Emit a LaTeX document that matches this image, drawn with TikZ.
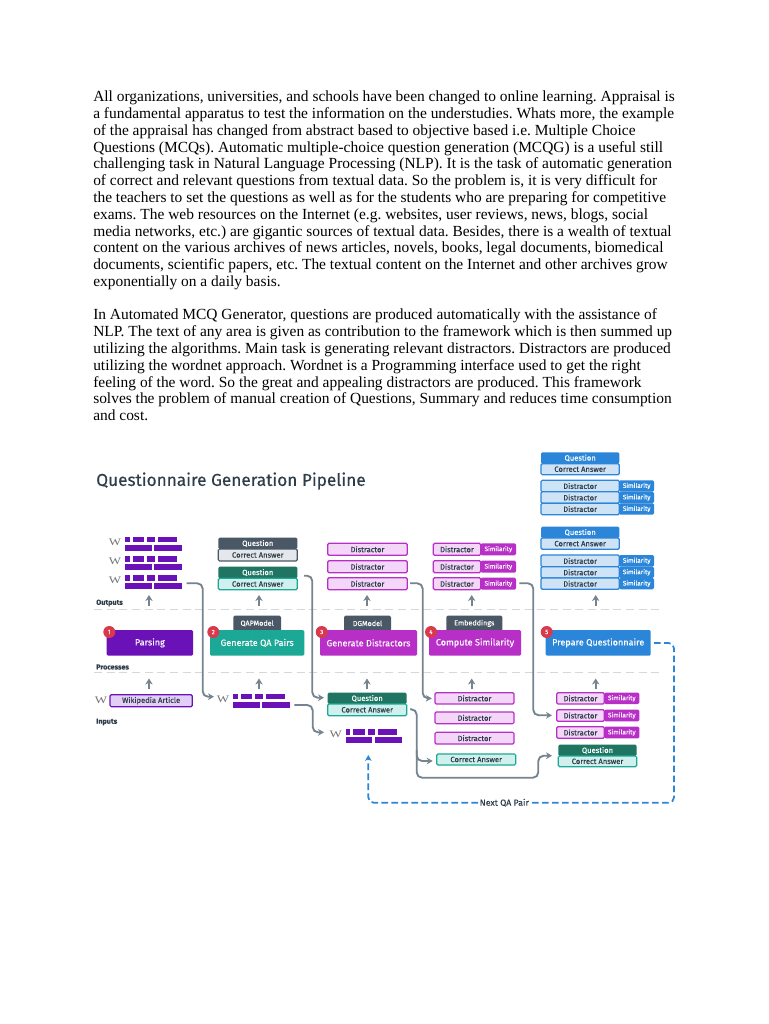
\documentclass[tikz,border=0pt]{standalone}
\usepackage{fontspec}
\setmainfont{Liberation Serif}
\newfontfamily\dinfont[FakeBold=0.1]{Fira Sans}
\newfontfamily\dintitle[FakeBold=0.3]{Fira Sans}
\newfontfamily\wfont[FakeStretch=1.3]{Liberation Serif}
\usetikzlibrary{arrows.meta}
\definecolor{cpurple}{HTML}{6A12B8}
\definecolor{cteal}{HTML}{1CA896}
\definecolor{cmag}{HTML}{B82FC8}
\definecolor{cblue}{HTML}{2B85D8}
\definecolor{cslate}{HTML}{4A5866}
\definecolor{cgreen}{HTML}{1F7562}
\definecolor{lteal}{HTML}{CFF0EC}
\definecolor{lmag}{HTML}{F3D6F8}
\definecolor{lblue}{HTML}{CFE3F7}
\definecolor{lgray}{HTML}{E4E7EB}
\definecolor{lpurple}{HTML}{E3CFF5}
\definecolor{cred}{HTML}{D83A4C}
\definecolor{cconn}{HTML}{76848F}
\definecolor{cdash}{HTML}{D3D8DC}
\definecolor{cink}{HTML}{2F3D49}
\tikzset{
 x=0.75pt,y=-0.75pt,
 para/.style={anchor=base west,inner sep=0pt,font=\fontsize{11.58}{13}\selectfont\frenchspacing,text=black},
 bx/.style={inner sep=0pt,outer sep=0pt,font=\dinfont\fontsize{5.7}{6}\selectfont,rounded corners=1pt},
 hdr/.style={bx,fill=#1,text=white},
 lit/.style 2 args={bx,fill=#1,draw=#2,line width=0.9pt,text=cink},
 proc/.style={bx,fill=#1,text=white,font=\dinfont\fontsize{6.8}{8}\selectfont},
 model/.style={bx,fill=cslate,text=white,font=\dinfont\fontsize{5.4}{6}\selectfont},
 badge/.style={circle,fill=cred,text=white,inner sep=0pt,minimum size=9pt,font=\dinfont\fontsize{4.5}{5}\selectfont},
 rowlab/.style={anchor=west,inner sep=0pt,text=cink,font=\dinfont\bfseries\fontsize{5.4}{6}\selectfont},
 wiki/.style={inner sep=0pt,text=black!55,font=\wfont\fontsize{7.5}{8}\selectfont},
 upar/.style={draw=cconn,line width=1.7pt,-{Stealth[length=4.5pt,width=5.5pt]}},
 conn/.style={draw=cconn,line width=1.4pt,rounded corners=4pt,-{Stealth[length=4.5pt,width=5pt]}},
 nxt/.style={draw=cblue,line width=1.3pt,dash pattern=on 5pt off 2.5pt,rounded corners=4pt},
 sep/.style={draw=cdash,line width=1.1pt,dash pattern=on 6pt off 3.5pt},
}
\newcommand{\bx}[7]{\node[#6,minimum width={(#4-#2)*0.75pt},minimum height={(#5-#3)*0.75pt}] (#1) at ({(#2+#4)/2},{(#3+#5)/2}) {#7};}
\newcommand{\wordrow}[3]{%
 \node[wiki] (w#1) at ({115+#2},{542+#3}) {W};
 \begin{scope}[shift={(#2,#3)}]
  \fill[cpurple] (125.3,536.7) rectangle (129.7,542.3);
  \fill[cpurple] (132.7,536.7) rectangle (144.3,542.3);
  \fill[cpurple] (147.3,536.7) rectangle (154.7,542.3);
  \fill[cpurple] (157.7,536.7) rectangle (176.7,542.3);
  \fill[cpurple] (125.3,544.7) rectangle (151.7,550.5);
  \fill[cpurple] (154,544.7) rectangle (181.7,550.5);
 \end{scope}}
\newcommand{\distsim}[8]{% name x1 xm x2 y1 y2 colour-style sim-style
 \bx{#1d}{#2}{#5}{#3}{#6}{#7}{Distractor}
 \bx{#1s}{#3}{#5}{#4}{#6}{#8}{Similarity}}
\tikzset{
 lm/.style={lit={lmag}{cmag}},
 lb/.style={lit={lblue}{cblue}},
 lt/.style={lit={lteal}{cteal}},
 lg/.style={lit={lgray}{cslate}},
 sm/.style={hdr=cmag,font=\dinfont\fontsize{4.8}{5}\selectfont},
 sb/.style={hdr=cblue,font=\dinfont\fontsize{4.8}{5}\selectfont},
}
\begin{document}
\begin{tikzpicture}
\useasboundingbox (0,0) rectangle (768,1024);
\fill[white] (0,0) rectangle (768,1024);
% --- body text
\node[para] (t1) at (93,101) {All organizations, universities, and schools have been changed to online learning. Appraisal is};
\node[para] (t2) at (93,118) {a fundamental apparatus to test the information on the understudies. Whats more, the example};
\node[para] (t3) at (93,135) {of the appraisal has changed from abstract based to objective based i.e. Multiple Choice};
\node[para] (t4) at (93,152) {Questions (MCQs). Automatic multiple-choice question generation (MCQG) is a useful still};
\node[para] (t5) at (93,168) {challenging task in Natural Language Processing (NLP). It is the task of automatic generation};
\node[para] (t6) at (93,185) {of correct and relevant questions from textual data. So the problem is, it is very difficult for};
\node[para] (t7) at (93,202) {the teachers to set the questions as well as for the students who are preparing for competitive};
\node[para] (t8) at (93,219) {exams. The web resources on the Internet (e.g. websites, user reviews, news, blogs, social};
\node[para] (t9) at (93,236) {media networks, etc.) are gigantic sources of textual data. Besides, there is a wealth of textual};
\node[para] (t10) at (93,252) {content on the various archives of news articles, novels, books, legal documents, biomedical};
\node[para] (t11) at (93,269) {documents, scientific papers, etc. The textual content on the Internet and other archives grow};
\node[para] (t12) at (93,286) {exponentially on a daily basis.};
\node[para] (u1) at (93,319) {In Automated MCQ Generator, questions are produced automatically with the assistance of};
\node[para] (u2) at (93,336) {NLP. The text of any area is given as contribution to the framework which is then summed up};
\node[para] (u3) at (93,353) {utilizing the algorithms. Main task is generating relevant distractors. Distractors are produced};
\node[para] (u4) at (93,370) {utilizing the wordnet approach. Wordnet is a Programming interface used to get the right};
\node[para] (u5) at (93,387) {feeling of the word. So the great and appealing distractors are produced. This framework};
\node[para] (u6) at (93,403) {solves the problem of manual creation of Questions, Summary and reduces time consumption};
\node[para] (u7) at (93,420) {and cost.};
% --- title
\node[anchor=west,inner sep=0pt,text=cink,font=\dintitle\fontsize{12.9}{15}\selectfont] (title) at (96,481) {Questionnaire Generation Pipeline};
% --- separators
\coordinate (s1a) at (94,609.7); \coordinate (s1b) at (660,609.7);
\coordinate (s2a) at (94,672.3); \coordinate (s2b) at (660,672.3);
\draw[sep] (s1a) -- (s1b);
\draw[sep] (s2a) -- (s2b);
\node[rowlab] (lo) at (96,603) {Outputs};
\node[rowlab] (lp) at (96,667) {Processes};
\node[rowlab] (li) at (96,722) {Inputs};
% --- word rows
\wordrow{a}{0}{0}
\wordrow{b}{0}{19.3}
\wordrow{c}{0}{38.3}
\wordrow{d}{108}{157}
\wordrow{e}{220.7}{192.3}
% --- outputs
\bx{q1}{218.3}{537.7}{297.3}{549}{hdr=cslate}{Question}
\bx{a1}{218.3}{549}{297.3}{561}{lg}{Correct Answer}
\bx{q2}{218.3}{566.7}{297.3}{578.3}{hdr=cgreen}{Question}
\bx{a2}{218.3}{578.3}{297.3}{589.7}{lt}{Correct Answer}
\bx{d1}{327.7}{543.3}{407.3}{555.3}{lm}{Distractor}
\bx{d2}{327.7}{560.7}{407.3}{572.7}{lm}{Distractor}
\bx{d3}{327.7}{577.7}{407.3}{589.7}{lm}{Distractor}
\distsim{e1}{433.3}{480.7}{516}{543.3}{555.3}{lm}{sm}
\distsim{e2}{433.3}{480.7}{516}{560.7}{572.7}{lm}{sm}
\distsim{e3}{433.3}{480.7}{516}{577.7}{589.7}{lm}{sm}
\bx{q3}{541}{452.3}{619.3}{463.7}{hdr=cblue}{Question}
\bx{a3}{541}{463.7}{619.3}{474.7}{lb}{Correct Answer}
\distsim{f1}{541}{619.3}{654}{480.3}{491.7}{lb}{sb}
\distsim{f2}{541}{619.3}{654}{491.7}{503.3}{lb}{sb}
\distsim{f3}{541}{619.3}{654}{503.3}{514.7}{lb}{sb}
\bx{q4}{541}{526.7}{619.3}{538}{hdr=cblue}{Question}
\bx{a4}{541}{538}{619.3}{549.3}{lb}{Correct Answer}
\distsim{g1}{541}{619.3}{654}{555}{566.7}{lb}{sb}
\distsim{g2}{541}{619.3}{654}{566.7}{578}{lb}{sb}
\distsim{g3}{541}{619.3}{654}{578}{589.3}{lb}{sb}
% --- models
\bx{m2}{233.3}{615.7}{281}{631}{model}{QAPModel}
\bx{m3}{344}{615.7}{391}{631}{model}{DGModel}
\bx{m4}{446.3}{615.7}{502.3}{631}{model}{Embeddings}
% --- processes
\bx{p1}{106.7}{630}{193}{655.7}{proc=cpurple}{Parsing}
\bx{p2}{210}{630}{304.3}{655.7}{proc=cteal}{Generate QA Pairs}
\bx{p3}{320}{630}{417}{655.7}{proc=cmag}{Generate Distractors}
\bx{p4}{429}{630}{521}{655.7}{proc=cmag}{Compute Similarity}
\bx{p5}{545.7}{630}{650.7}{655.7}{proc=cblue}{Prepare Questionnaire}
\node[badge] (b1) at (109.3,632) {1};
\node[badge] (b2) at (213.3,632) {2};
\node[badge] (b3) at (321.7,632) {3};
\node[badge] (b4) at (431,632) {4};
\node[badge] (b5) at (546.7,632) {5};
% --- inputs
\node[wiki] (wf) at (101,700) {W};
\bx{in}{110}{694.7}{192.3}{706.7}{lit={lpurple}{cpurple}}{Wikipedia Article}
\bx{q5}{327.7}{692.7}{406.7}{704}{hdr=cgreen}{Question}
\bx{a5}{327.7}{704}{406.7}{715.7}{lt}{Correct Answer}
\bx{h1}{435}{692.7}{514}{704}{lm}{Distractor}
\bx{h2}{435}{712}{514}{723.7}{lm}{Distractor}
\bx{h3}{435}{732.3}{514}{744}{lm}{Distractor}
\bx{a6}{436.7}{754}{515.7}{765}{lt}{Correct Answer}
\distsim{k1}{556.7}{604.3}{639.3}{692.7}{704}{lm}{sm}
\distsim{k2}{556.7}{604.3}{639.3}{709.7}{721.3}{lm}{sm}
\distsim{k3}{556.7}{604.3}{639.3}{726.7}{738.3}{lm}{sm}
\bx{q6}{558.3}{744.7}{636.7}{756}{hdr=cgreen}{Question}
\bx{a7}{558.3}{756}{636.7}{766.7}{lt}{Correct Answer}
% --- up arrows
\foreach \n/\x in {1/149,2/259,3/367,4/471.7,5/595.7}{
 \coordinate (ua\n) at (\x,605.5); \coordinate (ub\n) at (\x,595);
 \coordinate (uc\n) at (\x,688.5); \coordinate (ud\n) at (\x,678.5);
 \draw[upar] (ua\n) -- (ub\n);
 \draw[upar] (uc\n) -- (ud\n);
}
% --- connectors
\coordinate (c1a) at (186.7,583.3); \coordinate (c1b) at (214,696.7);
\draw[conn] (c1a) -- (202.7,583.3) -- (202.7,696.7) -- (c1b);
\coordinate (c2a) at (304,575.7); \coordinate (c2b) at (324,697.7);
\draw[conn] (c2a) -- (312.3,575.7) -- (312.3,697.7) -- (c2b);
\coordinate (c3a) at (294.3,705); \coordinate (c3b) at (324,732.3);
\draw[conn] (c3a) -- (312.7,705) -- (312.7,732.3) -- (c3b);
\coordinate (c4a) at (410,583.3); \coordinate (c4b) at (431.7,698.3);
\draw[conn] (c4a) -- (422.7,583.3) -- (422.7,698.3) -- (c4b);
\coordinate (c5a) at (519.3,583.3); \coordinate (c5b) at (552,715.3);
\draw[conn] (c5a) -- (533.3,583.3) -- (533.3,715.3) -- (c5b);
\coordinate (c6a) at (410,709.3); \coordinate (c6b) at (432.7,761); \coordinate (c6c) at (552,755.7);
\draw[conn] (c6a) -- (416.7,709.3) -- (416.7,761) -- (c6b);
\draw[conn] (416.7,750) -- (416.7,777.7) -- (538.3,777.7) -- (538.3,755.7) -- (c6c);
% --- next pair loop
\node[inner sep=0pt,text=cink,font=\dinfont\fontsize{6.6}{7}\selectfont] (nq) at (504.3,802.7) {Next QA Pair};
\coordinate (l1) at (654,643); \coordinate (l2) at (368.3,755);
\draw[nxt] (l1) -- (674,643) -- (674,802.7) -- ([xshift=2pt]nq.east);
\draw[nxt,-{Stealth[length=4.5pt,width=5pt]}] ([xshift=-1pt]nq.west) -- (368.3,802.7) -- (l2);
\end{tikzpicture}
\end{document}
